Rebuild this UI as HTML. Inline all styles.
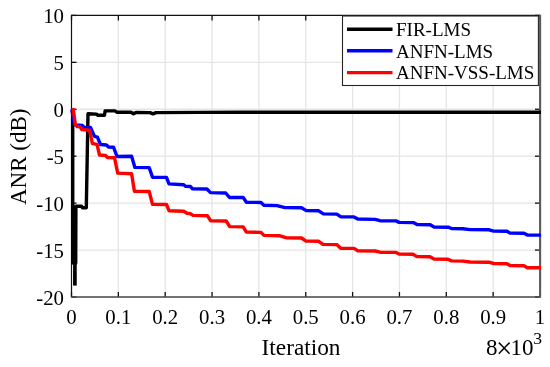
<!DOCTYPE html>
<html><head><meta charset="utf-8"><style>
html,body{margin:0;padding:0;background:#fff;}
svg{display:block;font-family:"Liberation Serif","Times New Roman",serif;}
</style></head><body>
<svg width="550" height="367" viewBox="0 0 550 367">
<rect width="550" height="367" fill="#fff"/>
<g stroke="#e5e5e5" stroke-width="1.3"><line x1="118.35" y1="15.4" x2="118.35" y2="297.0"/><line x1="165.20" y1="15.4" x2="165.20" y2="297.0"/><line x1="212.05" y1="15.4" x2="212.05" y2="297.0"/><line x1="258.90" y1="15.4" x2="258.90" y2="297.0"/><line x1="305.75" y1="15.4" x2="305.75" y2="297.0"/><line x1="352.60" y1="15.4" x2="352.60" y2="297.0"/><line x1="399.45" y1="15.4" x2="399.45" y2="297.0"/><line x1="446.30" y1="15.4" x2="446.30" y2="297.0"/><line x1="493.15" y1="15.4" x2="493.15" y2="297.0"/><line x1="71.5" y1="62.33" x2="540.0" y2="62.33"/><line x1="71.5" y1="109.27" x2="540.0" y2="109.27"/><line x1="71.5" y1="156.20" x2="540.0" y2="156.20"/><line x1="71.5" y1="203.13" x2="540.0" y2="203.13"/><line x1="71.5" y1="250.07" x2="540.0" y2="250.07"/></g>
<g stroke="#111" stroke-width="1.3"><line x1="71.50" y1="297.0" x2="71.50" y2="292.0"/><line x1="71.50" y1="15.4" x2="71.50" y2="20.4"/><line x1="118.35" y1="297.0" x2="118.35" y2="292.0"/><line x1="118.35" y1="15.4" x2="118.35" y2="20.4"/><line x1="165.20" y1="297.0" x2="165.20" y2="292.0"/><line x1="165.20" y1="15.4" x2="165.20" y2="20.4"/><line x1="212.05" y1="297.0" x2="212.05" y2="292.0"/><line x1="212.05" y1="15.4" x2="212.05" y2="20.4"/><line x1="258.90" y1="297.0" x2="258.90" y2="292.0"/><line x1="258.90" y1="15.4" x2="258.90" y2="20.4"/><line x1="305.75" y1="297.0" x2="305.75" y2="292.0"/><line x1="305.75" y1="15.4" x2="305.75" y2="20.4"/><line x1="352.60" y1="297.0" x2="352.60" y2="292.0"/><line x1="352.60" y1="15.4" x2="352.60" y2="20.4"/><line x1="399.45" y1="297.0" x2="399.45" y2="292.0"/><line x1="399.45" y1="15.4" x2="399.45" y2="20.4"/><line x1="446.30" y1="297.0" x2="446.30" y2="292.0"/><line x1="446.30" y1="15.4" x2="446.30" y2="20.4"/><line x1="493.15" y1="297.0" x2="493.15" y2="292.0"/><line x1="493.15" y1="15.4" x2="493.15" y2="20.4"/><line x1="540.00" y1="297.0" x2="540.00" y2="292.0"/><line x1="540.00" y1="15.4" x2="540.00" y2="20.4"/><line x1="71.5" y1="15.40" x2="76.5" y2="15.40"/><line x1="540.0" y1="15.40" x2="535.0" y2="15.40"/><line x1="71.5" y1="62.33" x2="76.5" y2="62.33"/><line x1="540.0" y1="62.33" x2="535.0" y2="62.33"/><line x1="71.5" y1="109.27" x2="76.5" y2="109.27"/><line x1="540.0" y1="109.27" x2="535.0" y2="109.27"/><line x1="71.5" y1="156.20" x2="76.5" y2="156.20"/><line x1="540.0" y1="156.20" x2="535.0" y2="156.20"/><line x1="71.5" y1="203.13" x2="76.5" y2="203.13"/><line x1="540.0" y1="203.13" x2="535.0" y2="203.13"/><line x1="71.5" y1="250.07" x2="76.5" y2="250.07"/><line x1="540.0" y1="250.07" x2="535.0" y2="250.07"/><line x1="71.5" y1="297.00" x2="76.5" y2="297.00"/><line x1="540.0" y1="297.00" x2="535.0" y2="297.00"/></g>
<line x1="71.5" y1="15.4" x2="540.0" y2="15.4" stroke="#111" stroke-width="1.3"/>
<line x1="71.5" y1="14.8" x2="71.5" y2="297.0" stroke="#111" stroke-width="1.2"/>
<line x1="70.9" y1="297.0" x2="540.0" y2="297.0" stroke="#444" stroke-width="1.6"/>
<line x1="540.1" y1="14.8" x2="540.1" y2="297.8" stroke="#5a5a5a" stroke-width="2.1"/>
<g fill="none" stroke-width="3.4" stroke-linejoin="round" stroke-linecap="butt">
<path stroke="#000" d="M72.7 109.3 L72.8 263.0 L75.7 263.0 L75.9 206.2 L81.5 206.2 L82.5 207.8 L86.3 207.8 L88.0 113.8 L96.4 114.1 L98.0 115.3 L104.5 115.3 L105.1 110.9 L114.9 110.9 L117.0 112.2 L131.0 112.2 L133.5 113.8 L136.0 112.5 L150.0 112.6 L153.0 113.9 L156.0 112.6 L200.0 112.4 L240.0 112.2 L300.0 112.2 L400.0 112.3 L541.0 112.3"/>
<path stroke="#000" stroke-width="3.7" stroke-linecap="butt" d="M74.9 262 L74.9 285.6"/>
<path stroke="#0000ff" d="M71.8 109.4 L74.5 124.5 L76.5 125.0 L82.5 125.5 L84.0 127.2 L90.5 127.5 L94.5 136.4 L97.4 137.2 L100.5 144.5 L106.5 145.0 L108.5 147.0 L113.5 147.2 L117.0 156.5 L131.6 156.3 L134.9 167.4 L149.2 167.6 L152.5 177.2 L166.5 177.4 L169.0 183.9 L183.7 184.7 L185.5 186.3 L190.5 186.5 L192.5 188.8 L206.9 189.0 L210.5 192.6 L225.7 193.0 L229.5 197.5 L243.2 197.5 L246.4 202.2 L261.0 202.5 L263.9 205.3 L277.0 205.6 L285.0 207.6 L301.5 207.8 L306.3 210.6 L318.7 210.8 L323.4 213.9 L336.8 214.1 L340.6 216.7 L354.0 216.9 L357.8 219.0 L375.0 219.4 L380.0 220.7 L396.0 220.9 L399.2 222.4 L413.4 222.6 L417.0 224.6 L430.2 224.8 L434.0 227.0 L448.2 227.2 L451.5 228.5 L463.0 228.7 L470.0 229.6 L489.2 229.8 L493.6 231.1 L507.0 231.3 L510.0 233.1 L524.0 233.3 L527.3 235.0 L541.0 235.1"/>
<path stroke="#ff0000" d="M73.3 109.6 L75.3 124.5 L77.0 126.5 L80.0 126.8 L81.8 129.5 L89.5 130.2 L92.4 143.5 L97.0 144.3 L99.5 155.0 L105.5 155.5 L107.5 157.5 L114.5 157.7 L117.7 173.1 L131.6 173.8 L134.4 191.2 L149.2 191.5 L152.5 204.3 L166.5 204.5 L169.0 210.7 L183.7 211.2 L187.0 213.3 L190.0 213.5 L193.0 215.4 L207.4 215.8 L210.7 220.7 L226.2 221.0 L229.7 226.6 L243.2 226.9 L246.4 232.1 L261.0 232.4 L264.0 235.4 L280.0 235.8 L286.0 237.7 L301.5 238.0 L306.0 241.1 L318.7 241.3 L323.0 244.4 L336.8 244.6 L340.6 248.2 L354.0 248.4 L357.8 250.7 L375.0 251.0 L380.0 252.2 L396.0 252.4 L399.2 254.0 L413.0 254.2 L417.0 256.6 L430.0 256.8 L434.0 259.0 L448.0 259.2 L451.5 260.9 L463.0 261.1 L470.0 262.0 L489.0 262.2 L493.6 263.5 L507.0 263.7 L510.0 265.5 L524.0 265.7 L527.3 267.7 L541.0 267.8"/>
<circle cx="73.3" cy="109.6" r="1.75" fill="#ff0000" stroke="none"/>
</g>
<g text-anchor="middle" font-size="20.8"><text x="71.50" y="324">0</text><text x="118.35" y="324">0.1</text><text x="165.20" y="324">0.2</text><text x="212.05" y="324">0.3</text><text x="258.90" y="324">0.4</text><text x="305.75" y="324">0.5</text><text x="352.60" y="324">0.6</text><text x="399.45" y="324">0.7</text><text x="446.30" y="324">0.8</text><text x="493.15" y="324">0.9</text><text x="540.00" y="324">1</text></g>
<g text-anchor="end" font-size="20.8"><text x="64" y="23.30">10</text><text x="64" y="70.23">5</text><text x="64" y="117.17">0</text><text x="64" y="164.10">-5</text><text x="64" y="211.03">-10</text><text x="64" y="257.97">-15</text><text x="64" y="304.90">-20</text></g>
<text x="261.6" y="355" font-size="23.3" fill="#000">Iteration</text>
<text x="486" y="355" font-size="23">8</text>
<text x="504.2" y="358" font-size="29" text-anchor="middle">×</text>
<text x="510.6" y="355" font-size="23">10</text>
<text x="533.2" y="343.6" font-size="17.6">3</text>
<text transform="translate(26.2,205) rotate(-90)" font-size="23">ANR (dB)</text>
<g>
<rect x="342.5" y="16.0" width="195.9" height="69.5" fill="#fff" stroke="#262626" stroke-width="1.1"/>
<line x1="347" y1="29.2" x2="392.5" y2="29.2" stroke="#000" stroke-width="3.5"/>
<line x1="347" y1="50.7" x2="392.5" y2="50.7" stroke="#0000ff" stroke-width="3.4"/>
<line x1="347" y1="72.6" x2="392.5" y2="72.6" stroke="#ff0000" stroke-width="3.4"/>
<g font-size="19">
<text x="396" y="36.3">FIR-LMS</text>
<text x="396" y="57.5">ANFN-LMS</text>
<text x="396" y="79.1">ANFN-VSS-LMS</text>
</g>
</g>
</svg>
</body></html>
